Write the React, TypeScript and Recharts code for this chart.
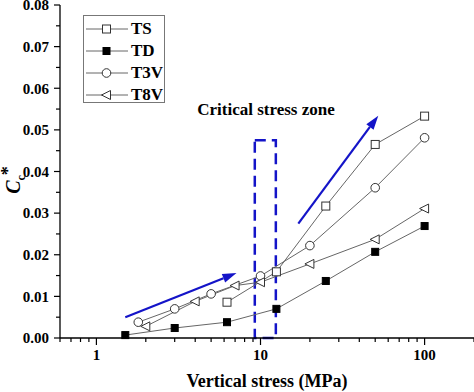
import {
  LineChart,
  Line,
  XAxis,
  YAxis,
  ReferenceLine,
  ReferenceArea,
  ReferenceDot,
} from "recharts";

// stress (MPa) and C_c* per test series
const tsStress = [6.25, 12.5, 25, 50, 100];
const tsCc = [0.0086, 0.0159, 0.0317, 0.0465, 0.0533];

const tdStress = [1.5, 3, 6.25, 12.5, 25, 50, 100];
const tdCc = [0.0007, 0.0024, 0.0038, 0.007, 0.0137, 0.0207, 0.0269];

const t3vStress = [1.8, 3, 5, 10, 20, 50, 100];
const t3vCc = [0.0038, 0.007, 0.0106, 0.0149, 0.0222, 0.0361, 0.0481];

const t8vStress = [2, 4, 7, 10, 20, 50, 100];
const t8vCc = [0.0028, 0.0088, 0.0126, 0.0134, 0.0178, 0.0237, 0.0311];

const xTicks = [
  0.6, 0.7, 0.8, 0.9, 1, 2, 3, 4, 5, 6, 7, 8, 9, 10, 20, 30, 40, 50, 60, 70, 80, 90, 100, 200,
];
const xMajor = [1, 10, 100];
const yTicks = [
  0, 0.005, 0.01, 0.015, 0.02, 0.025, 0.03, 0.035, 0.04, 0.045, 0.05, 0.055, 0.06, 0.065, 0.07,
  0.075, 0.08,
];

const zip = (xs: number[], ys: number[]) => xs.map((x, i) => ({ x, y: ys[i] }));
const tsData = zip(tsStress, tsCc);
const tdData = zip(tdStress, tdCc);
const t3vData = zip(t3vStress, t3vCc);
const t8vData = zip(t8vStress, t8vCc);

const FONT = '"Liberation Serif", "Times New Roman", serif';
const BLUE = "#1414c8";
const LINE = "#666";
const MK = "#333";

const OpenSquare = ({ cx, cy }: any) => (
  <rect x={cx - 4} y={cy - 4} width={8} height={8} fill="#fff" stroke={MK} strokeWidth={1} />
);
const FilledSquare = ({ cx, cy }: any) => (
  <rect x={cx - 3.5} y={cy - 3.5} width={7} height={7} fill="#000" stroke="#000" />
);
const OpenCircle = ({ cx, cy }: any) => (
  <circle cx={cx} cy={cy} r={4.3} fill="#fff" stroke={MK} strokeWidth={1} />
);
const LeftTriangle = ({ cx, cy }: any) => (
  <polygon
    points={`${cx - 5},${cy} ${cx + 4},${cy - 4.5} ${cx + 4},${cy + 4.5}`}
    fill="#fff"
    stroke={MK}
    strokeWidth={1}
  />
);

const dot = (Shape: any) => (p: any) => <Shape key={`${p.index}`} cx={p.cx} cy={p.cy} />;

const XTick = ({ x, y, payload }: any) => {
  const major = xMajor.includes(payload.value);
  return (
    <g>
      <line x1={x} x2={x} y1={y} y2={y + (major ? 7 : 4)} stroke="#000" strokeWidth={1.2} />
      {major && (
        <text x={x} y={y + 22} textAnchor="middle" fontFamily={FONT} fontWeight="bold" fontSize={15} fill="#000">
          {payload.value}
        </text>
      )}
    </g>
  );
};

const YTick = ({ x, y, payload }: any) => {
  const major = Math.round(payload.value * 1000) % 10 === 0;
  return (
    <g>
      <line x1={x - (major ? 6 : 4)} x2={x} y1={y} y2={y} stroke="#000" strokeWidth={1.2} />
      {major && (
        <text x={x - 11} y={y} dy="0.35em" textAnchor="end" fontFamily={FONT} fontWeight="bold" fontSize={15} fill="#000">
          {payload.value.toFixed(2)}
        </text>
      )}
    </g>
  );
};

const arrow = (p: any) => {
  const { x1, y1, x2, y2 } = p;
  const a = Math.atan2(y2 - y1, x2 - x1);
  const L = 14;
  const W = 4.5;
  const bx = x2 - L * Math.cos(a);
  const by = y2 - L * Math.sin(a);
  const nx = -Math.sin(a) * W;
  const ny = Math.cos(a) * W;
  return (
    <g>
      <line x1={x1} y1={y1} x2={bx} y2={by} stroke={BLUE} strokeWidth={2.2} />
      <polygon points={`${x2},${y2} ${bx + nx},${by + ny} ${bx - nx},${by - ny}`} fill={BLUE} />
    </g>
  );
};

const YLabel = () => (
  <text transform="translate(20,180) rotate(-90)" fontFamily={FONT} fontWeight="bold" fill="#000" textAnchor="middle">
    <tspan fontStyle="italic" fontSize={20}>C</tspan>
    <tspan fontSize={12} dy={5}>c</tspan>
    <tspan fontSize={18} dy={-11}>*</tspan>
  </text>
);

const legendItems = [
  { name: "TS", Shape: OpenSquare },
  { name: "TD", Shape: FilledSquare },
  { name: "T3V", Shape: OpenCircle },
  { name: "T8V", Shape: LeftTriangle },
];

const LegendBox = () => (
  <div
    style={{
      position: "absolute",
      left: 83,
      top: 15,
      width: 82,
      height: 88,
      border: "1px solid #777",
      background: "#fff",
      boxSizing: "border-box",
    }}
  >
    {legendItems.map(({ name, Shape }, i) => (
      <div key={name} style={{ position: "absolute", left: 0, top: 2 + i * 22, height: 22, display: "flex", alignItems: "center" }}>
        <svg width={46} height={22}>
          <line x1={2} x2={44} y1={11} y2={11} stroke={LINE} strokeWidth={1} />
          <Shape cx={22.5} cy={11} />
        </svg>
        <span style={{ fontFamily: FONT, fontWeight: "bold", fontSize: 17, color: "#000", marginLeft: 1 }}>{name}</span>
      </div>
    ))}
  </div>
);

export default function App() {
  return (
    <div style={{ position: "absolute", left: 0, top: 0, width: 474, height: 392, background: "#fff" }}>
      <LineChart width={474} height={392} margin={{ top: 5, right: 0, bottom: 0, left: 0 }}>
        <XAxis
          dataKey="x"
          type="number"
          scale="log"
          domain={[0.6, 200]}
          allowDataOverflow
          ticks={xTicks}
          interval={0}
          tickSize={0}
          tickMargin={0}
          tickLine={false}
          tick={<XTick />}
          height={54}
          axisLine={{ stroke: "#000", strokeWidth: 1.3 }}
          label={{
            value: "Vertical stress (MPa)",
            position: "insideBottom",
            offset: 5,
            style: { fontFamily: FONT, fontWeight: "bold", fontSize: 18, fill: "#000" },
          }}
        />
        <YAxis
          type="number"
          domain={[0, 0.08]}
          ticks={yTicks}
          interval={0}
          width={60}
          tickSize={0}
          tickMargin={0}
          tickLine={false}
          tick={<YTick />}
          axisLine={{ stroke: "#000", strokeWidth: 1.3 }}
          label={{ content: () => <YLabel /> }}
        />
        <ReferenceArea
          x1={9.23}
          x2={12.4}
          y1={0}
          y2={0.0475}
          fill="none"
          fillOpacity={0}
          stroke={BLUE}
          strokeWidth={2.5}
          strokeDasharray="11 6"
          ifOverflow="visible"
        />
        <ReferenceLine
          segment={[
            { x: 1.5, y: 0.005 },
            { x: 7.14, y: 0.0156 },
          ]}
          shape={arrow}
          ifOverflow="visible"
        />
        <ReferenceLine
          segment={[
            { x: 17, y: 0.0275 },
            { x: 52.2, y: 0.0534 },
          ]}
          shape={arrow}
          ifOverflow="visible"
        />
        <ReferenceDot
          x={10.8}
          y={0.055}
          r={0}
          fill="none"
          stroke="none"
          label={{
            value: "Critical stress zone",
            position: "center",
            style: { fontFamily: FONT, fontWeight: "bold", fontSize: 17, fill: "#000" },
          }}
        />
        <Line data={tsData} dataKey="y" name="TS" stroke={LINE} strokeWidth={1} dot={dot(OpenSquare)} isAnimationActive={false} />
        <Line data={tdData} dataKey="y" name="TD" stroke={LINE} strokeWidth={1} dot={dot(FilledSquare)} isAnimationActive={false} />
        <Line data={t3vData} dataKey="y" name="T3V" stroke={LINE} strokeWidth={1} dot={dot(OpenCircle)} isAnimationActive={false} />
        <Line data={t8vData} dataKey="y" name="T8V" stroke={LINE} strokeWidth={1} dot={dot(LeftTriangle)} isAnimationActive={false} />
      </LineChart>
      <LegendBox />
    </div>
  );
}
